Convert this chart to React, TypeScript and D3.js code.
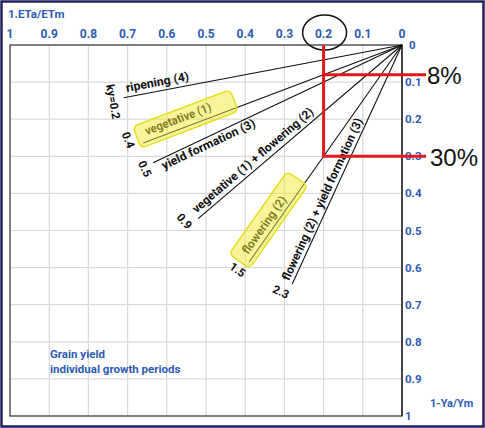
import React from "react";
import * as d3 from "d3";

// ---- data ----
const deficitTicks = [1, 0.9, 0.8, 0.7, 0.6, 0.5, 0.4, 0.3, 0.2, 0.1, 0];
const deficitTickLabels = ["1", "0.9", "0.8", "0.7", "0.6", "0.5", "0.4", "0.3", "0.2", "0.1", "0"];
const yieldTicks = [0, 0.1, 0.2, 0.3, 0.4, 0.5, 0.6, 0.7, 0.8, 0.9, 1];
const yieldTickLabels = ["0", "0.1", "0.2", "0.3", "0.4", "0.5", "0.6", "0.7", "0.8", "0.9", "1"];
const kyValues = [0.2, 0.4, 0.5, 0.9, 1.5, 2.3];
const kyLabels = ["ky=0.2", "0.4", "0.5", "0.9", "1.5", "2.3"];
const stageLabels = [
  "ripening (4)",
  "vegetative (1)",
  "yield formation (3)",
  "vegetative (1) + flowering (2)",
  "flowering (2)",
  "flowering (2) + yield formation (3)",
];
const lineEndDeficit = [0.71, 0.66, 0.635, 0.52, 0.39, 0.28];
const highlighted = [false, true, false, false, true, false];
const markedDeficit = 0.2;
const markedYieldDrops = [0.08, 0.3];
const markLabels = ["8%", "30%"];
const xAxisTitle = "1.ETa/ETm";
const yAxisTitle = "1-Ya/Ym";
const noteLines = ["Grain yield", "individual growth periods"];

// ---- layout (not data) ----
const stageTextLayout = [
  { s: 4, p: 5, len: 64 },
  { s: 6, p: 6, len: 70 },
  { s: 7, p: -11, len: 102 },
  { s: 2, p: 5, len: 155 },
  { s: 5, p: 5, len: 68 },
  { s: 1, p: 4, len: 177 },
];
const kyLabelLayout = [
  { a: 11, b: -2 },
  { a: 13, b: 8 },
  { a: 10, b: -2 },
  { a: 12, b: 7 },
  { a: 13, b: 5 },
  { a: 12, b: 7 },
];
const boxLayout = [null, { s0: -4, s1: 100, p0: -4, p1: 19 }, null, null, { s0: -5, s1: 96, p0: -4, p1: 21 }, null];

const W = 485;
const H = 428;
const LEFT = 10, RIGHT = 402, TOP = 45, BOTTOM = 416;
const BLUE = "#2d5bb5";
const RED = "#e5161d";
const LABEL_FONT = "Roboto, 'Noto Sans', sans-serif";

export default function App() {
  const x = d3.scaleLinear().domain([1, 0]).range([LEFT, RIGHT]);
  const y = d3.scaleLinear().domain([0, 1]).range([TOP, BOTTOM]);
  const ox = x(0), oy = y(0);
  const line = d3.line<[number, number]>().x((d) => x(d[0])).y((d) => y(d[1]));

  return (
    <svg width={W} height={H} style={{ position: "absolute", left: 0, top: 0, background: "#fff" }}>
      <rect x={1.5} y={1.5} width={W - 3} height={H - 3} fill="#fff" stroke="#22225e" strokeWidth={2.5} />
      {/* grid */}
      {deficitTicks.slice(1, -1).map((v) => (
        <line key={"gv" + v} x1={x(v)} x2={x(v)} y1={TOP} y2={BOTTOM} stroke="#d9d9d9" strokeWidth={1.2} />
      ))}
      {yieldTicks.slice(1, -1).map((v) => (
        <line key={"gh" + v} x1={LEFT} x2={RIGHT} y1={y(v)} y2={y(v)} stroke="#d9d9d9" strokeWidth={1.2} />
      ))}
      <rect x={LEFT} y={TOP} width={RIGHT - LEFT} height={BOTTOM - TOP} fill="none" stroke="#555" strokeWidth={1.5} />
      <line x1={RIGHT} x2={RIGHT} y1={TOP} y2={BOTTOM} stroke="#444" strokeWidth={2} />

      {/* top axis labels */}
      {deficitTicks.map((v, i) => (
        <text key={"tx" + i} x={x(v)} y={38} textAnchor="middle" fontFamily={LABEL_FONT} fontWeight="bold" fontSize={12} fill={BLUE}>
          {deficitTickLabels[i]}
        </text>
      ))}
      <text x={8} y={18} fontFamily={LABEL_FONT} fontWeight="bold" fontSize={11.5} fill={BLUE}>{xAxisTitle}</text>
      {/* right axis labels */}
      {yieldTicks.map((v, i) => (
        <text key={"ty" + i} x={i === 0 ? 409 : 405} y={y(v) + 4} fontFamily={LABEL_FONT} fontWeight="bold" fontSize={11.5} fill={BLUE}>
          {yieldTickLabels[i]}
        </text>
      ))}
      <text x={430} y={407} fontFamily={LABEL_FONT} fontWeight="bold" fontSize={11} fill={BLUE}>{yAxisTitle}</text>
      {noteLines.map((t, i) => (
        <text key={"n" + i} x={50} y={358 + i * 15} fontFamily={LABEL_FONT} fontWeight="bold" fontSize={11.5} fill={BLUE}>{t}</text>
      ))}

      {/* ky lines */}
      {kyValues.map((ky, i) => {
        const ed = lineEndDeficit[i];
        const ex = x(ed), ey = y(ky * ed);
        const dx = ox - ex, dy = oy - ey;
        const L = Math.hypot(dx, dy);
        const ux = dx / L, uy = dy / L;
        const nx = uy, ny = -ux;
        const deg = (Math.atan2(uy, ux) * 180) / Math.PI;
        const st = stageTextLayout[i];
        const kl = kyLabelLayout[i];
        const box = boxLayout[i];
        const cx = ex - kl.a * ux + kl.b * nx;
        const cy = ey - kl.a * uy + kl.b * ny;
        return (
          <g key={"ky" + i}>
            <path d={line([[ed, ky * ed], [0, 0]]) || ""} stroke="#111" strokeWidth={1.1} fill="none" />
            <g transform={`translate(${ex},${ey}) rotate(${deg})`}>
              <text x={st.s} y={-st.p} fontFamily={LABEL_FONT} fontWeight="bold" fontSize={12} fill="#111"
                textLength={st.len} lengthAdjust="spacingAndGlyphs">
                {stageLabels[i]}
              </text>
              {highlighted[i] && box && (
                <rect x={box.s0} y={-box.p1} width={box.s1 - box.s0} height={box.p1 - box.p0} rx={5}
                  fill="#f2ea3a" fillOpacity={0.5} stroke="#e6de1e" strokeWidth={1.5} />
              )}
            </g>
            <text transform={`translate(${cx},${cy}) rotate(${deg + 90})`} textAnchor="middle" dominantBaseline="central"
              fontFamily={LABEL_FONT} fontWeight="bold" fontSize={11.5} fill="#111">
              {kyLabels[i]}
            </text>
          </g>
        );
      })}

      {/* annotations */}
      <ellipse cx={x(markedDeficit) + 1} cy={32.5} rx={22} ry={17.5} fill="none" stroke="#111" strokeWidth={1.5} />
      <line x1={x(markedDeficit)} x2={x(markedDeficit)} y1={TOP} y2={y(d3.max(markedYieldDrops) as number)} stroke={RED} strokeWidth={3} />
      {markedYieldDrops.map((v, i) => (
        <g key={"m" + i}>
          <line x1={x(markedDeficit) - 1.5} x2={426} y1={y(v)} y2={y(v)} stroke={RED} strokeWidth={3} />
          <text x={i === 0 ? 427 : 430} y={y(v) + 9 + (i === 0 ? 0 : 1)} fontFamily="'Liberation Sans', Arial, sans-serif" fontSize={24} fill="#111">
            {markLabels[i]}
          </text>
        </g>
      ))}
    </svg>
  );
}
